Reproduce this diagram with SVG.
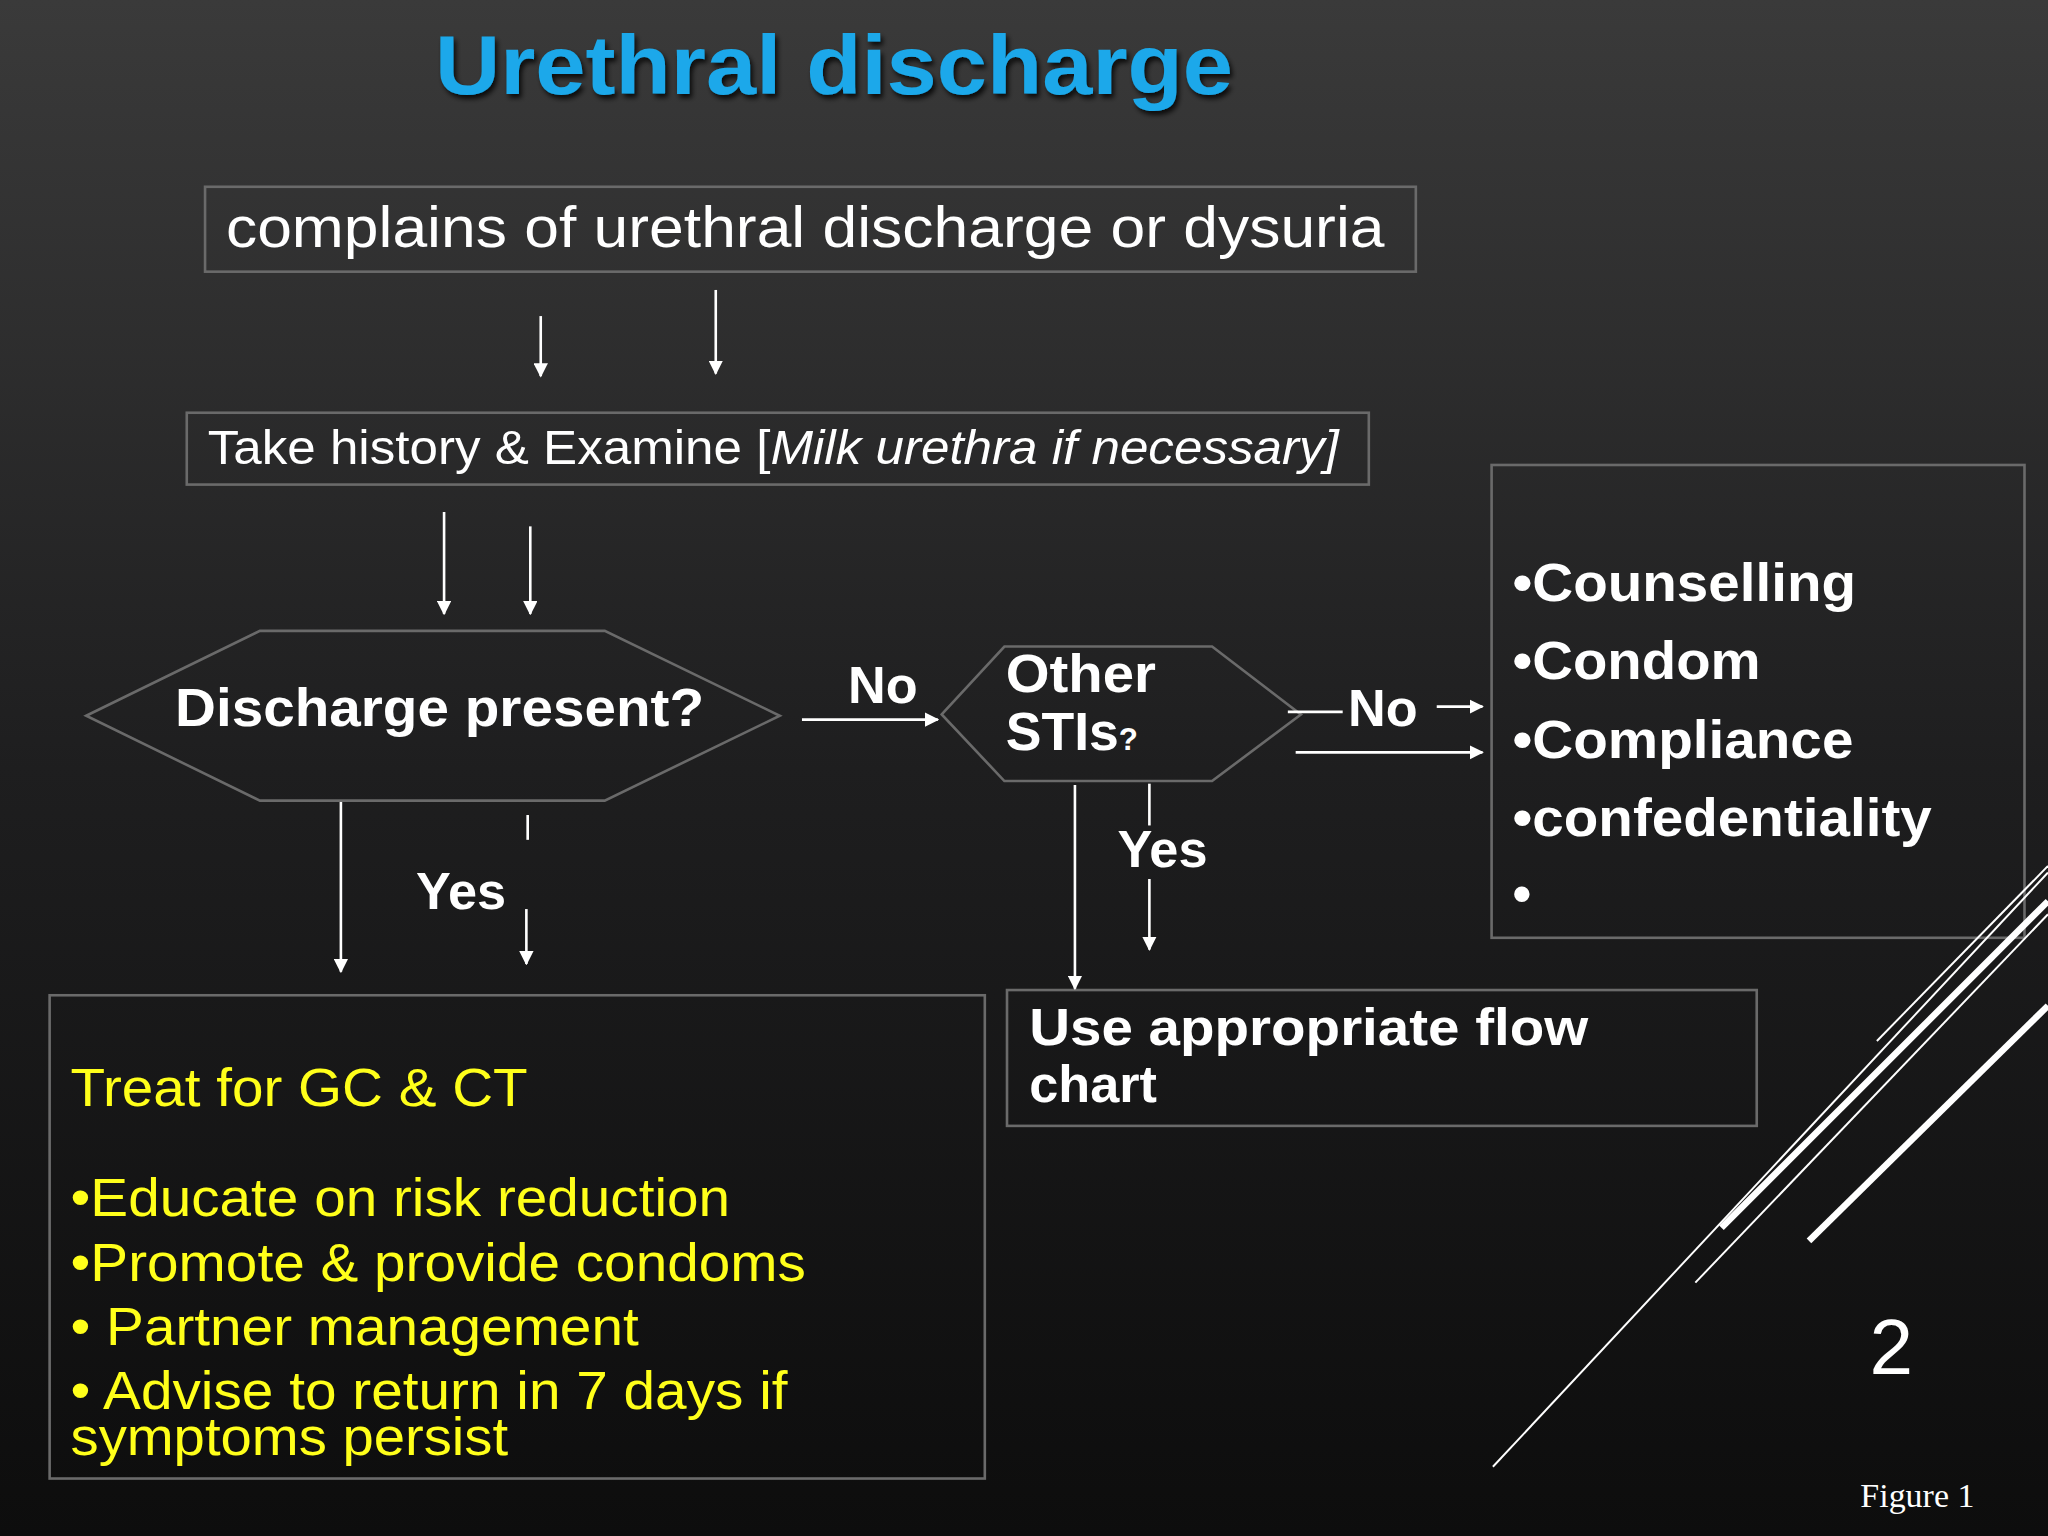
<svg xmlns="http://www.w3.org/2000/svg" width="2048" height="1536" viewBox="0 0 2048 1536">
<defs>
<linearGradient id="bg" x1="0" y1="0" x2="0" y2="1"><stop offset="0" stop-color="#3a3a3a"/><stop offset="0.5" stop-color="#1e1e1f"/><stop offset="1" stop-color="#0d0d0d"/></linearGradient>
<marker id="ah" viewBox="0 0 10 10" refX="9" refY="5" markerWidth="5.5" markerHeight="5.5" orient="auto"><path d="M0,0L10,5L0,10z" fill="#fff"/></marker>
<filter id="sh"><feDropShadow dx="2" dy="3" stdDeviation="2" flood-color="#000" flood-opacity="0.8"/></filter>
</defs>
<style>
.box{fill:none;stroke:#6a6a6a;stroke-width:2}
.t{font-family:"Liberation Sans",Arial,sans-serif;fill:#fff}
.b{font-weight:bold}
.y{fill:#ffff1a}
.c{stroke:#fff;stroke-width:2;fill:none}
.a{marker-end:url(#ah)}
.d{stroke:#fff;fill:none}
</style>
<rect width="2048" height="1536" fill="url(#bg)"/>
<g transform="scale(1.30612)">
<text x="333" y="72" textLength="611" lengthAdjust="spacingAndGlyphs" class="t b" font-size="64" style="fill:#1aa8ea" filter="url(#sh)">Urethral discharge</text>
<g id="n1"><rect class="box" x="157" y="143" width="927" height="65"/><text class="t" x="173" y="189" font-size="44" textLength="887" lengthAdjust="spacingAndGlyphs">complains of urethral discharge or dysuria</text></g>
<g id="n2"><rect class="box" x="143" y="316" width="905" height="55"/><text class="t" x="159" y="355" font-size="37" textLength="866" lengthAdjust="spacingAndGlyphs">Take history &amp; Examine [<tspan font-style="italic">Milk urethra if necessary]</tspan></text></g>
<g id="n3"><polygon class="box" points="66,548 199,483 463,483 597,548 463,613 199,613"/><text class="t b" x="134" y="556" textLength="405" lengthAdjust="spacingAndGlyphs" font-size="41">Discharge present?</text></g>
<g id="n4"><polygon class="box" points="721,547 769,495 928,495 996,547 928,598 769,598"/><text class="t b" x="770" y="530" font-size="41" textLength="115" lengthAdjust="spacingAndGlyphs">Other</text><text class="t b" x="770" y="574" font-size="41">STIs<tspan font-size="24">?</tspan></text></g>
<g id="n5"><rect class="box" x="1142" y="356" width="408" height="362"/>
<text class="t b" font-size="41"><tspan x="1158" y="460" textLength="263" lengthAdjust="spacingAndGlyphs">•Counselling</tspan><tspan x="1158" y="520" textLength="190" lengthAdjust="spacingAndGlyphs">•Condom</tspan><tspan x="1158" y="580" textLength="261" lengthAdjust="spacingAndGlyphs">•Compliance</tspan><tspan x="1158" y="640" textLength="321" lengthAdjust="spacingAndGlyphs">•confedentiality</tspan><tspan x="1158" y="698">•</tspan></text></g>
<g id="n6"><rect class="box" x="771" y="758" width="574" height="104"/><text class="t b" font-size="40"><tspan x="788" y="800" textLength="428" lengthAdjust="spacingAndGlyphs">Use appropriate flow</tspan><tspan x="788" y="844">chart</tspan></text></g>
<g id="n7"><rect class="box" x="38" y="762" width="716" height="370"/>
<text class="t y" font-size="41"><tspan x="54" y="847" textLength="350" lengthAdjust="spacingAndGlyphs">Treat for GC &amp; CT</tspan><tspan x="54" y="931" textLength="505" lengthAdjust="spacingAndGlyphs">•Educate on risk reduction</tspan><tspan x="54" y="981" textLength="563" lengthAdjust="spacingAndGlyphs">•Promote &amp; provide condoms</tspan><tspan x="54" y="1030" textLength="435" lengthAdjust="spacingAndGlyphs">• Partner management</tspan><tspan x="54" y="1079" textLength="549" lengthAdjust="spacingAndGlyphs">• Advise to return in 7 days if</tspan><tspan x="54" y="1114" textLength="335" lengthAdjust="spacingAndGlyphs">symptoms persist</tspan></text></g>
<g id="connectors">
<line class="c a" x1="414" y1="242" x2="414" y2="288"/>
<line class="c a" x1="548" y1="222" x2="548" y2="286"/>
<line class="c a" x1="340" y1="392" x2="340" y2="470"/>
<line class="c a" x1="406" y1="403" x2="406" y2="470"/>
<line class="c a" x1="614" y1="551" x2="718" y2="551"/>
<text class="t b" x="676" y="538" text-anchor="middle" font-size="40">No</text>
<line class="c" x1="986" y1="545" x2="1028" y2="545"/>
<text class="t b" x="1032" y="556" font-size="40">No</text>
<line class="c a" x1="1100" y1="541" x2="1135" y2="541"/>
<line class="c a" x1="992" y1="576" x2="1135" y2="576"/>
<line class="c a" x1="261" y1="614" x2="261" y2="744"/>
<line class="c" x1="404" y1="624" x2="404" y2="643"/>
<line class="c a" x1="403" y1="696" x2="403" y2="738"/>
<text class="t b" x="353" y="696" text-anchor="middle" font-size="40">Yes</text>
<line class="c a" x1="823" y1="601" x2="823" y2="757"/>
<line class="c" x1="880" y1="600" x2="880" y2="632"/>
<line class="c a" x1="880" y1="673" x2="880" y2="727"/>
<text class="t b" x="890" y="664" text-anchor="middle" font-size="40">Yes</text>
</g>
<line class="d" stroke-width="1.5" x1="1143" y1="1123" x2="1568" y2="668"/>
<line class="d" stroke-width="5" x1="1318" y1="940" x2="1568" y2="690"/>
<line class="d" stroke-width="5" x1="1385" y1="950" x2="1568" y2="770"/>
<line class="d" stroke-width="1.5" x1="1298" y1="982" x2="1568" y2="700"/>
<line class="d" stroke-width="1.5" x1="1437" y1="797" x2="1568" y2="663"/>
<text class="t" x="1448" y="1052" text-anchor="middle" font-size="60">2</text>
<text x="1468" y="1154" text-anchor="middle" font-size="26" font-family="Liberation Serif,serif" fill="#fff">Figure 1</text>
</g>
</svg>
